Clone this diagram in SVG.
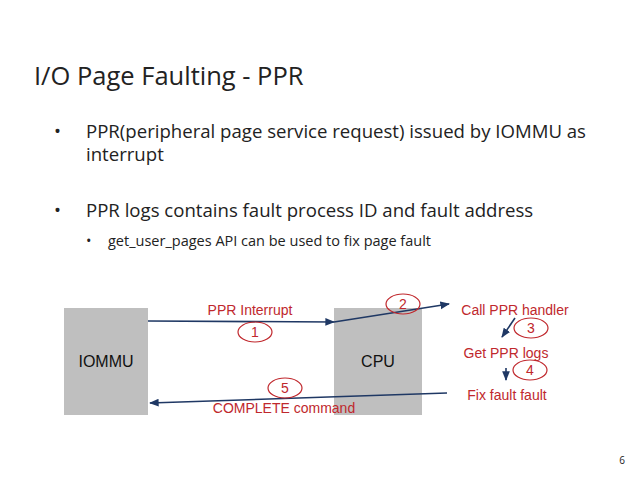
<svg xmlns="http://www.w3.org/2000/svg" width="638" height="478" viewBox="0 0 638 478">
<defs>
<marker id="a" viewBox="0 0 10 10" refX="9" refY="5" markerWidth="6" markerHeight="6" orient="auto"><path d="M0,1 L10,5 L0,9 z" fill="#1f3864"/></marker>
<style>
.t{font-family:"Open Sans","Liberation Sans",sans-serif;fill:#222}
.r{font-family:"Liberation Sans",Arial,sans-serif;font-size:14px;fill:#c0282d}
.b{font-family:"Liberation Sans",Arial,sans-serif;font-size:16px;fill:#111}
.c{fill:none;stroke:#c0282d;stroke-width:1.2}
.l{stroke:#1f3864;stroke-width:1.6;fill:none;marker-end:url(#a)}
</style>
</defs>
<rect width="638" height="478" fill="#fff"/>
<text class="t" x="34" y="85" font-size="25.5">I/O Page Faulting - PPR</text>
<text class="t" x="54" y="138" font-size="18.6">•</text>
<text class="t" x="86" y="138" font-size="18.6">PPR(peripheral page service request) issued by IOMMU as</text>
<text class="t" x="86" y="161" font-size="18.6">interrupt</text>
<text class="t" x="54" y="217" font-size="18.6">•</text>
<text class="t" x="86" y="217" font-size="18.6">PPR logs contains fault process ID and fault address</text>
<text class="t" x="86" y="246" font-size="14.5">•</text>
<text class="t" x="108" y="246" font-size="14.5">get_user_pages API can be used to fix page fault</text>
<g id="iommu"><rect x="64" y="308" width="84" height="107" fill="#bfbfbf"/><text class="b" x="106" y="367" text-anchor="middle">IOMMU</text></g>
<g id="cpu"><rect x="334" y="308" width="88" height="107" fill="#bfbfbf"/><text class="b" x="378" y="367" text-anchor="middle">CPU</text></g>
<g id="connectors">
<path class="l" d="M148,321 L334,322"/>
<path class="l" d="M334,322 L449,304"/>
<path class="l" d="M515,318 L502,337"/>
<path class="l" d="M506,368 L506,380"/>
<path class="l" d="M447,393 L150,403"/>
</g>
<g id="labels">
<text class="r" x="250" y="315" text-anchor="middle">PPR Interrupt</text>
<ellipse class="c" cx="255" cy="332" rx="17" ry="10"/><text class="r" x="255" y="337" text-anchor="middle">1</text>
<ellipse class="c" cx="403" cy="304" rx="17" ry="10"/><text class="r" x="403" y="309" text-anchor="middle">2</text>
<text class="r" x="515" y="315" text-anchor="middle">Call PPR handler</text>
<ellipse class="c" cx="531" cy="328" rx="17" ry="10"/><text class="r" x="531" y="333" text-anchor="middle">3</text>
<text class="r" x="506" y="358" text-anchor="middle">Get PPR logs</text>
<ellipse class="c" cx="530" cy="370" rx="17" ry="10"/><text class="r" x="530" y="375" text-anchor="middle">4</text>
<text class="r" x="507" y="400" text-anchor="middle">Fix fault fault</text>
<ellipse class="c" cx="285" cy="388" rx="17" ry="10"/><text class="r" x="285" y="393" text-anchor="middle">5</text>
<text class="r" x="284" y="413" text-anchor="middle">COMPLETE command</text>
</g>
<text class="t" x="625" y="464" font-size="10" text-anchor="end">6</text>
</svg>
